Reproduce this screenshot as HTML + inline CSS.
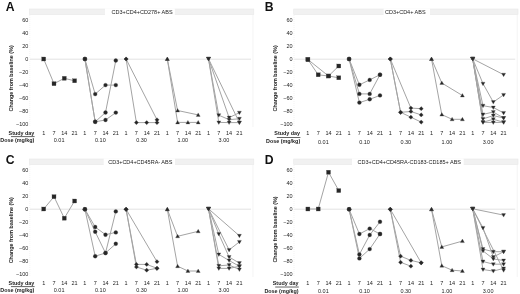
<!DOCTYPE html><html><head><meta charset="utf-8"><style>html,body{margin:0;padding:0;background:#fff;width:520px;height:294px;overflow:hidden}svg{display:block}text{font-family:"Liberation Sans",Arial,sans-serif}</style></head><body>
<svg width="520" height="294" viewBox="0 0 520 294">
<rect width="520" height="294" fill="#fff"/>
<g><text x="5.8" y="11.1" font-size="12.2" font-weight="bold" fill="#111">A</text><rect x="29.5" y="9" width="224.3" height="5.6" fill="#f1f1f1" stroke="#e8e8e8" stroke-width="0.6"/><rect x="105" y="8.5" width="69.8" height="6.6" fill="#fff"/><text x="142.10" y="13.5" font-size="5.5" text-anchor="middle" fill="#222">CD3+CD4+CD278+ ABS</text><line x1="29.8" y1="15" x2="29.8" y2="127" stroke="#ebebeb" stroke-width="0.6" stroke-dasharray="1 1"/><line x1="253" y1="15" x2="253" y2="127" stroke="#ececec" stroke-width="0.6"/><line x1="30" y1="59.2" x2="251" y2="59.2" stroke="#e0e0e0" stroke-width="0.9"/><text x="28.4" y="22.00" font-size="5.5" text-anchor="end" fill="#222">60</text><text x="28.4" y="34.95" font-size="5.5" text-anchor="end" fill="#222">40</text><text x="28.4" y="47.90" font-size="5.5" text-anchor="end" fill="#222">20</text><text x="28.4" y="60.85" font-size="5.5" text-anchor="end" fill="#222">0</text><text x="28.4" y="73.80" font-size="5.5" text-anchor="end" fill="#222">&#8722;20</text><text x="28.4" y="86.75" font-size="5.5" text-anchor="end" fill="#222">&#8722;40</text><text x="28.4" y="99.70" font-size="5.5" text-anchor="end" fill="#222">&#8722;60</text><text x="28.4" y="112.65" font-size="5.5" text-anchor="end" fill="#222">&#8722;80</text><text x="28.4" y="125.60" font-size="5.5" text-anchor="end" fill="#222">&#8722;100</text><text transform="translate(12.60,78.40) rotate(-90)" x="0" y="0" font-size="5.4" font-weight="bold" text-anchor="middle" fill="#222">Change from baseline (%)</text><text x="34.3" y="135.2" font-size="5.4" font-weight="bold" text-anchor="end" fill="#222">Study day</text><line x1="11" y1="136.6" x2="34.6" y2="136.6" stroke="#222" stroke-width="0.7"/><text x="34.4" y="141.9" font-size="5.4" font-weight="bold" text-anchor="end" fill="#222">Dose (mg/kg)</text><text x="43.70" y="135.3" font-size="5.5" text-anchor="middle" fill="#222">1</text><text x="54.00" y="135.3" font-size="5.5" text-anchor="middle" fill="#222">7</text><text x="64.30" y="135.3" font-size="5.5" text-anchor="middle" fill="#222">14</text><text x="74.60" y="135.3" font-size="5.5" text-anchor="middle" fill="#222">21</text><text x="84.90" y="135.3" font-size="5.5" text-anchor="middle" fill="#222">1</text><text x="95.20" y="135.3" font-size="5.5" text-anchor="middle" fill="#222">7</text><text x="105.50" y="135.3" font-size="5.5" text-anchor="middle" fill="#222">14</text><text x="115.80" y="135.3" font-size="5.5" text-anchor="middle" fill="#222">21</text><text x="126.10" y="135.3" font-size="5.5" text-anchor="middle" fill="#222">1</text><text x="136.40" y="135.3" font-size="5.5" text-anchor="middle" fill="#222">7</text><text x="146.70" y="135.3" font-size="5.5" text-anchor="middle" fill="#222">14</text><text x="157.00" y="135.3" font-size="5.5" text-anchor="middle" fill="#222">21</text><text x="167.30" y="135.3" font-size="5.5" text-anchor="middle" fill="#222">1</text><text x="177.60" y="135.3" font-size="5.5" text-anchor="middle" fill="#222">7</text><text x="187.90" y="135.3" font-size="5.5" text-anchor="middle" fill="#222">14</text><text x="198.20" y="135.3" font-size="5.5" text-anchor="middle" fill="#222">21</text><text x="208.50" y="135.3" font-size="5.5" text-anchor="middle" fill="#222">1</text><text x="218.80" y="135.3" font-size="5.5" text-anchor="middle" fill="#222">7</text><text x="229.10" y="135.3" font-size="5.5" text-anchor="middle" fill="#222">14</text><text x="239.40" y="135.3" font-size="5.5" text-anchor="middle" fill="#222">21</text><text x="59.15" y="142" font-size="5.5" text-anchor="middle" fill="#222">0.01</text><text x="100.35" y="142" font-size="5.5" text-anchor="middle" fill="#222">0.10</text><text x="141.55" y="142" font-size="5.5" text-anchor="middle" fill="#222">0.30</text><text x="182.75" y="142" font-size="5.5" text-anchor="middle" fill="#222">1.00</text><text x="223.95" y="142" font-size="5.5" text-anchor="middle" fill="#222">3.00</text><g fill="none" stroke="#a4a4a4" stroke-width="1.0"><polyline points="43.70,59.00 54.00,83.70 64.30,78.30 74.60,80.80"/><polyline points="84.90,59.00 95.20,94.10 105.50,85.10 115.80,85.10"/><polyline points="84.90,59.00 95.20,121.80 105.50,120.00 115.80,112.60"/><polyline points="84.90,59.00 95.20,121.80 105.50,112.50 115.80,60.50"/><polyline points="126.10,59.00 136.40,122.60 146.70,122.60 157.00,122.60"/><polyline points="126.10,59.00 157.00,119.80"/><polyline points="167.30,59.00 177.60,110.50 198.20,114.90"/><polyline points="167.30,59.00 177.60,122.40 187.90,122.40 198.20,122.40"/><polyline points="208.50,58.80 218.80,115.20 229.10,119.70 239.40,118.75"/><polyline points="208.50,58.80 218.80,122.40 229.10,122.60 239.40,122.60"/><polyline points="208.50,58.80 229.10,117.60 239.40,112.70"/><polyline points="208.50,58.80 239.40,122.60"/></g><g fill="#262626" stroke="#555" stroke-width="0.3"><rect x="41.70" y="57.00" width="4.0" height="4.0"/><rect x="52.00" y="81.70" width="4.0" height="4.0"/><rect x="62.30" y="76.30" width="4.0" height="4.0"/><rect x="72.60" y="78.80" width="4.0" height="4.0"/><circle cx="84.90" cy="59.00" r="1.95"/><circle cx="95.20" cy="94.10" r="1.95"/><circle cx="105.50" cy="85.10" r="1.95"/><circle cx="115.80" cy="85.10" r="1.95"/><circle cx="84.90" cy="59.00" r="1.95"/><circle cx="95.20" cy="121.80" r="1.95"/><circle cx="105.50" cy="120.00" r="1.95"/><circle cx="115.80" cy="112.60" r="1.95"/><circle cx="84.90" cy="59.00" r="1.95"/><circle cx="95.20" cy="121.80" r="1.95"/><circle cx="105.50" cy="112.50" r="1.95"/><circle cx="115.80" cy="60.50" r="1.95"/><path d="M126.10 56.90L128.20 59.00L126.10 61.10L124.00 59.00Z"/><path d="M136.40 120.50L138.50 122.60L136.40 124.70L134.30 122.60Z"/><path d="M146.70 120.50L148.80 122.60L146.70 124.70L144.60 122.60Z"/><path d="M157.00 120.50L159.10 122.60L157.00 124.70L154.90 122.60Z"/><path d="M126.10 56.90L128.20 59.00L126.10 61.10L124.00 59.00Z"/><path d="M157.00 117.70L159.10 119.80L157.00 121.90L154.90 119.80Z"/><path d="M167.30 57.00L169.30 60.50L165.30 60.50Z"/><path d="M177.60 108.50L179.60 112.00L175.60 112.00Z"/><path d="M198.20 112.90L200.20 116.40L196.20 116.40Z"/><path d="M167.30 57.00L169.30 60.50L165.30 60.50Z"/><path d="M177.60 120.40L179.60 123.90L175.60 123.90Z"/><path d="M187.90 120.40L189.90 123.90L185.90 123.90Z"/><path d="M198.20 120.40L200.20 123.90L196.20 123.90Z"/><path d="M208.50 60.80L210.50 57.30L206.50 57.30Z"/><path d="M218.80 117.20L220.80 113.70L216.80 113.70Z"/><path d="M229.10 121.70L231.10 118.20L227.10 118.20Z"/><path d="M239.40 120.75L241.40 117.25L237.40 117.25Z"/><path d="M208.50 60.80L210.50 57.30L206.50 57.30Z"/><path d="M218.80 124.40L220.80 120.90L216.80 120.90Z"/><path d="M229.10 124.60L231.10 121.10L227.10 121.10Z"/><path d="M239.40 124.60L241.40 121.10L237.40 121.10Z"/><path d="M208.50 60.80L210.50 57.30L206.50 57.30Z"/><path d="M229.10 119.60L231.10 116.10L227.10 116.10Z"/><path d="M239.40 114.70L241.40 111.20L237.40 111.20Z"/><path d="M208.50 60.80L210.50 57.30L206.50 57.30Z"/><path d="M239.40 124.60L241.40 121.10L237.40 121.10Z"/></g></g>
<g><text x="264.8" y="11.1" font-size="12.2" font-weight="bold" fill="#111">B</text><rect x="293.7" y="9" width="224.3" height="5.6" fill="#f1f1f1" stroke="#e8e8e8" stroke-width="0.6"/><rect x="383.6" y="8.5" width="46.4" height="6.6" fill="#fff"/><text x="405.30" y="13.5" font-size="5.5" text-anchor="middle" fill="#222">CD3+CD4+ ABS</text><line x1="294.0" y1="15" x2="294.0" y2="127" stroke="#ebebeb" stroke-width="0.6" stroke-dasharray="1 1"/><line x1="517.2" y1="15" x2="517.2" y2="127" stroke="#ececec" stroke-width="0.6"/><line x1="294.2" y1="59.2" x2="515.2" y2="59.2" stroke="#e0e0e0" stroke-width="0.9"/><text x="292.59999999999997" y="22.00" font-size="5.5" text-anchor="end" fill="#222">60</text><text x="292.59999999999997" y="34.95" font-size="5.5" text-anchor="end" fill="#222">40</text><text x="292.59999999999997" y="47.90" font-size="5.5" text-anchor="end" fill="#222">20</text><text x="292.59999999999997" y="60.85" font-size="5.5" text-anchor="end" fill="#222">0</text><text x="292.59999999999997" y="73.80" font-size="5.5" text-anchor="end" fill="#222">&#8722;20</text><text x="292.59999999999997" y="86.75" font-size="5.5" text-anchor="end" fill="#222">&#8722;40</text><text x="292.59999999999997" y="99.70" font-size="5.5" text-anchor="end" fill="#222">&#8722;60</text><text x="292.59999999999997" y="112.65" font-size="5.5" text-anchor="end" fill="#222">&#8722;80</text><text x="292.59999999999997" y="125.60" font-size="5.5" text-anchor="end" fill="#222">&#8722;100</text><text transform="translate(276.80,78.40) rotate(-90)" x="0" y="0" font-size="5.4" font-weight="bold" text-anchor="middle" fill="#222">Change from baseline (%)</text><text x="300.1" y="135.2" font-size="5.4" font-weight="bold" text-anchor="end" fill="#222">Study day</text><line x1="276.8" y1="137.5" x2="300.40000000000003" y2="137.5" stroke="#222" stroke-width="0.7"/><text x="300.2" y="143.4" font-size="5.4" font-weight="bold" text-anchor="end" fill="#222">Dose (mg/kg)</text><text x="307.90" y="135.3" font-size="5.5" text-anchor="middle" fill="#222">1</text><text x="318.20" y="135.3" font-size="5.5" text-anchor="middle" fill="#222">7</text><text x="328.50" y="135.3" font-size="5.5" text-anchor="middle" fill="#222">14</text><text x="338.80" y="135.3" font-size="5.5" text-anchor="middle" fill="#222">21</text><text x="349.10" y="135.3" font-size="5.5" text-anchor="middle" fill="#222">1</text><text x="359.40" y="135.3" font-size="5.5" text-anchor="middle" fill="#222">7</text><text x="369.70" y="135.3" font-size="5.5" text-anchor="middle" fill="#222">14</text><text x="380.00" y="135.3" font-size="5.5" text-anchor="middle" fill="#222">21</text><text x="390.30" y="135.3" font-size="5.5" text-anchor="middle" fill="#222">1</text><text x="400.60" y="135.3" font-size="5.5" text-anchor="middle" fill="#222">7</text><text x="410.90" y="135.3" font-size="5.5" text-anchor="middle" fill="#222">14</text><text x="421.20" y="135.3" font-size="5.5" text-anchor="middle" fill="#222">21</text><text x="431.50" y="135.3" font-size="5.5" text-anchor="middle" fill="#222">1</text><text x="441.80" y="135.3" font-size="5.5" text-anchor="middle" fill="#222">7</text><text x="452.10" y="135.3" font-size="5.5" text-anchor="middle" fill="#222">14</text><text x="462.40" y="135.3" font-size="5.5" text-anchor="middle" fill="#222">21</text><text x="472.70" y="135.3" font-size="5.5" text-anchor="middle" fill="#222">1</text><text x="483.00" y="135.3" font-size="5.5" text-anchor="middle" fill="#222">7</text><text x="493.30" y="135.3" font-size="5.5" text-anchor="middle" fill="#222">14</text><text x="503.60" y="135.3" font-size="5.5" text-anchor="middle" fill="#222">21</text><text x="323.35" y="143.5" font-size="5.5" text-anchor="middle" fill="#222">0.01</text><text x="364.55" y="143.5" font-size="5.5" text-anchor="middle" fill="#222">0.10</text><text x="405.75" y="143.5" font-size="5.5" text-anchor="middle" fill="#222">0.30</text><text x="446.95" y="143.5" font-size="5.5" text-anchor="middle" fill="#222">1.00</text><text x="488.15" y="143.5" font-size="5.5" text-anchor="middle" fill="#222">3.00</text><g fill="none" stroke="#a4a4a4" stroke-width="1.0"><polyline points="307.90,59.50 318.20,74.80 328.50,76.00 338.80,77.80"/><polyline points="307.90,59.50 328.50,76.00 338.80,66.00"/><polyline points="349.10,59.00 359.40,84.80 369.70,79.90 380.00,74.70"/><polyline points="349.10,59.00 359.40,93.90 369.70,93.90 380.00,74.70"/><polyline points="349.10,59.00 359.40,102.60 369.70,99.30 380.00,95.40"/><polyline points="390.30,59.00 400.60,112.30 410.90,111.50 421.20,114.90"/><polyline points="390.30,59.00 400.60,112.30 410.90,117.20 421.20,122.10"/><polyline points="390.30,59.00 410.90,108.10 421.20,108.70"/><polyline points="431.50,59.00 441.80,83.00 462.40,95.50"/><polyline points="431.50,59.00 441.80,114.60 452.10,119.30 462.40,119.30"/><polyline points="472.70,58.80 503.60,74.70"/><polyline points="472.70,58.80 483.00,83.70 493.30,102.10 503.60,94.90"/><polyline points="472.70,58.80 483.00,105.70 493.30,107.50 503.60,112.90"/><polyline points="472.70,58.80 483.00,114.40 493.30,112.00 503.60,118.00"/><polyline points="472.70,58.80 483.00,118.90 493.30,115.60 503.60,118.00"/><polyline points="472.70,58.80 483.00,122.30 493.30,119.20 503.60,122.30"/><polyline points="472.70,58.80 483.00,122.30 493.30,122.50 503.60,122.30"/></g><g fill="#262626" stroke="#555" stroke-width="0.3"><rect x="305.90" y="57.50" width="4.0" height="4.0"/><rect x="316.20" y="72.80" width="4.0" height="4.0"/><rect x="326.50" y="74.00" width="4.0" height="4.0"/><rect x="336.80" y="75.80" width="4.0" height="4.0"/><rect x="305.90" y="57.50" width="4.0" height="4.0"/><rect x="326.50" y="74.00" width="4.0" height="4.0"/><rect x="336.80" y="64.00" width="4.0" height="4.0"/><circle cx="349.10" cy="59.00" r="1.95"/><circle cx="359.40" cy="84.80" r="1.95"/><circle cx="369.70" cy="79.90" r="1.95"/><circle cx="380.00" cy="74.70" r="1.95"/><circle cx="349.10" cy="59.00" r="1.95"/><circle cx="359.40" cy="93.90" r="1.95"/><circle cx="369.70" cy="93.90" r="1.95"/><circle cx="380.00" cy="74.70" r="1.95"/><circle cx="349.10" cy="59.00" r="1.95"/><circle cx="359.40" cy="102.60" r="1.95"/><circle cx="369.70" cy="99.30" r="1.95"/><circle cx="380.00" cy="95.40" r="1.95"/><path d="M390.30 56.90L392.40 59.00L390.30 61.10L388.20 59.00Z"/><path d="M400.60 110.20L402.70 112.30L400.60 114.40L398.50 112.30Z"/><path d="M410.90 109.40L413.00 111.50L410.90 113.60L408.80 111.50Z"/><path d="M421.20 112.80L423.30 114.90L421.20 117.00L419.10 114.90Z"/><path d="M390.30 56.90L392.40 59.00L390.30 61.10L388.20 59.00Z"/><path d="M400.60 110.20L402.70 112.30L400.60 114.40L398.50 112.30Z"/><path d="M410.90 115.10L413.00 117.20L410.90 119.30L408.80 117.20Z"/><path d="M421.20 120.00L423.30 122.10L421.20 124.20L419.10 122.10Z"/><path d="M390.30 56.90L392.40 59.00L390.30 61.10L388.20 59.00Z"/><path d="M410.90 106.00L413.00 108.10L410.90 110.20L408.80 108.10Z"/><path d="M421.20 106.60L423.30 108.70L421.20 110.80L419.10 108.70Z"/><path d="M431.50 57.00L433.50 60.50L429.50 60.50Z"/><path d="M441.80 81.00L443.80 84.50L439.80 84.50Z"/><path d="M462.40 93.50L464.40 97.00L460.40 97.00Z"/><path d="M431.50 57.00L433.50 60.50L429.50 60.50Z"/><path d="M441.80 112.60L443.80 116.10L439.80 116.10Z"/><path d="M452.10 117.30L454.10 120.80L450.10 120.80Z"/><path d="M462.40 117.30L464.40 120.80L460.40 120.80Z"/><path d="M472.70 60.80L474.70 57.30L470.70 57.30Z"/><path d="M503.60 76.70L505.60 73.20L501.60 73.20Z"/><path d="M472.70 60.80L474.70 57.30L470.70 57.30Z"/><path d="M483.00 85.70L485.00 82.20L481.00 82.20Z"/><path d="M493.30 104.10L495.30 100.60L491.30 100.60Z"/><path d="M503.60 96.90L505.60 93.40L501.60 93.40Z"/><path d="M472.70 60.80L474.70 57.30L470.70 57.30Z"/><path d="M483.00 107.70L485.00 104.20L481.00 104.20Z"/><path d="M493.30 109.50L495.30 106.00L491.30 106.00Z"/><path d="M503.60 114.90L505.60 111.40L501.60 111.40Z"/><path d="M472.70 60.80L474.70 57.30L470.70 57.30Z"/><path d="M483.00 116.40L485.00 112.90L481.00 112.90Z"/><path d="M493.30 114.00L495.30 110.50L491.30 110.50Z"/><path d="M503.60 120.00L505.60 116.50L501.60 116.50Z"/><path d="M472.70 60.80L474.70 57.30L470.70 57.30Z"/><path d="M483.00 120.90L485.00 117.40L481.00 117.40Z"/><path d="M493.30 117.60L495.30 114.10L491.30 114.10Z"/><path d="M503.60 120.00L505.60 116.50L501.60 116.50Z"/><path d="M472.70 60.80L474.70 57.30L470.70 57.30Z"/><path d="M483.00 124.30L485.00 120.80L481.00 120.80Z"/><path d="M493.30 121.20L495.30 117.70L491.30 117.70Z"/><path d="M503.60 124.30L505.60 120.80L501.60 120.80Z"/><path d="M472.70 60.80L474.70 57.30L470.70 57.30Z"/><path d="M483.00 124.30L485.00 120.80L481.00 120.80Z"/><path d="M493.30 124.50L495.30 121.00L491.30 121.00Z"/><path d="M503.60 124.30L505.60 120.80L501.60 120.80Z"/></g></g>
<g><text x="5.8" y="164.1" font-size="12.2" font-weight="bold" fill="#111">C</text><rect x="29.5" y="159" width="224.3" height="5.6" fill="#f1f1f1" stroke="#e8e8e8" stroke-width="0.6"/><rect x="103.7" y="158.5" width="71.3" height="6.6" fill="#fff"/><text x="140.30" y="163.5" font-size="5.5" text-anchor="middle" fill="#222">CD3+CD4+CD45RA- ABS</text><line x1="29.8" y1="165" x2="29.8" y2="277" stroke="#ebebeb" stroke-width="0.6" stroke-dasharray="1 1"/><line x1="253" y1="165" x2="253" y2="277" stroke="#ececec" stroke-width="0.6"/><line x1="30" y1="209.2" x2="251" y2="209.2" stroke="#e0e0e0" stroke-width="0.9"/><text x="28.4" y="172.00" font-size="5.5" text-anchor="end" fill="#222">60</text><text x="28.4" y="184.95" font-size="5.5" text-anchor="end" fill="#222">40</text><text x="28.4" y="197.90" font-size="5.5" text-anchor="end" fill="#222">20</text><text x="28.4" y="210.85" font-size="5.5" text-anchor="end" fill="#222">0</text><text x="28.4" y="223.80" font-size="5.5" text-anchor="end" fill="#222">&#8722;20</text><text x="28.4" y="236.75" font-size="5.5" text-anchor="end" fill="#222">&#8722;40</text><text x="28.4" y="249.70" font-size="5.5" text-anchor="end" fill="#222">&#8722;60</text><text x="28.4" y="262.65" font-size="5.5" text-anchor="end" fill="#222">&#8722;80</text><text x="28.4" y="275.60" font-size="5.5" text-anchor="end" fill="#222">&#8722;100</text><text transform="translate(12.60,230.20) rotate(-90)" x="0" y="0" font-size="5.4" font-weight="bold" text-anchor="middle" fill="#222">Change from baseline (%)</text><text x="34.3" y="285.2" font-size="5.4" font-weight="bold" text-anchor="end" fill="#222">Study day</text><line x1="11" y1="286.6" x2="34.6" y2="286.6" stroke="#222" stroke-width="0.7"/><text x="34.4" y="291.9" font-size="5.4" font-weight="bold" text-anchor="end" fill="#222">Dose (mg/kg)</text><text x="43.70" y="285.3" font-size="5.5" text-anchor="middle" fill="#222">1</text><text x="54.00" y="285.3" font-size="5.5" text-anchor="middle" fill="#222">7</text><text x="64.30" y="285.3" font-size="5.5" text-anchor="middle" fill="#222">14</text><text x="74.60" y="285.3" font-size="5.5" text-anchor="middle" fill="#222">21</text><text x="84.90" y="285.3" font-size="5.5" text-anchor="middle" fill="#222">1</text><text x="95.20" y="285.3" font-size="5.5" text-anchor="middle" fill="#222">7</text><text x="105.50" y="285.3" font-size="5.5" text-anchor="middle" fill="#222">14</text><text x="115.80" y="285.3" font-size="5.5" text-anchor="middle" fill="#222">21</text><text x="126.10" y="285.3" font-size="5.5" text-anchor="middle" fill="#222">1</text><text x="136.40" y="285.3" font-size="5.5" text-anchor="middle" fill="#222">7</text><text x="146.70" y="285.3" font-size="5.5" text-anchor="middle" fill="#222">14</text><text x="157.00" y="285.3" font-size="5.5" text-anchor="middle" fill="#222">21</text><text x="167.30" y="285.3" font-size="5.5" text-anchor="middle" fill="#222">1</text><text x="177.60" y="285.3" font-size="5.5" text-anchor="middle" fill="#222">7</text><text x="187.90" y="285.3" font-size="5.5" text-anchor="middle" fill="#222">14</text><text x="198.20" y="285.3" font-size="5.5" text-anchor="middle" fill="#222">21</text><text x="208.50" y="285.3" font-size="5.5" text-anchor="middle" fill="#222">1</text><text x="218.80" y="285.3" font-size="5.5" text-anchor="middle" fill="#222">7</text><text x="229.10" y="285.3" font-size="5.5" text-anchor="middle" fill="#222">14</text><text x="239.40" y="285.3" font-size="5.5" text-anchor="middle" fill="#222">21</text><text x="59.15" y="292" font-size="5.5" text-anchor="middle" fill="#222">0.01</text><text x="100.35" y="292" font-size="5.5" text-anchor="middle" fill="#222">0.10</text><text x="141.55" y="292" font-size="5.5" text-anchor="middle" fill="#222">0.30</text><text x="182.75" y="292" font-size="5.5" text-anchor="middle" fill="#222">1.00</text><text x="223.95" y="292" font-size="5.5" text-anchor="middle" fill="#222">3.00</text><g fill="none" stroke="#a4a4a4" stroke-width="1.0"><polyline points="43.70,209.00 54.00,196.70 64.30,218.20 74.60,201.00"/><polyline points="84.90,209.30 95.20,227.00 105.50,234.70 115.80,232.40"/><polyline points="84.90,209.30 95.20,231.80 105.50,253.00 115.80,211.40"/><polyline points="84.90,209.30 95.20,256.20 105.50,253.00 115.80,243.80"/><polyline points="126.10,209.30 136.40,264.40 146.70,264.40 157.00,268.30"/><polyline points="126.10,209.30 136.40,267.00 146.70,270.20 157.00,268.30"/><polyline points="126.10,209.30 157.00,261.70"/><polyline points="167.30,209.30 177.60,236.30 198.20,231.30"/><polyline points="167.30,209.30 177.60,266.20 187.90,271.00 198.20,271.00"/><polyline points="208.50,208.80 239.40,235.80"/><polyline points="208.50,208.80 218.80,234.00 229.10,257.00 239.40,263.10"/><polyline points="208.50,208.80 229.10,249.90 239.40,241.90"/><polyline points="208.50,208.80 218.80,254.40 229.10,260.50 239.40,266.30"/><polyline points="208.50,208.80 218.80,265.80 229.10,265.00 239.40,269.50"/><polyline points="208.50,208.80 218.80,268.40 229.10,268.40 239.40,266.30"/></g><g fill="#262626" stroke="#555" stroke-width="0.3"><rect x="41.70" y="207.00" width="4.0" height="4.0"/><rect x="52.00" y="194.70" width="4.0" height="4.0"/><rect x="62.30" y="216.20" width="4.0" height="4.0"/><rect x="72.60" y="199.00" width="4.0" height="4.0"/><circle cx="84.90" cy="209.30" r="1.95"/><circle cx="95.20" cy="227.00" r="1.95"/><circle cx="105.50" cy="234.70" r="1.95"/><circle cx="115.80" cy="232.40" r="1.95"/><circle cx="84.90" cy="209.30" r="1.95"/><circle cx="95.20" cy="231.80" r="1.95"/><circle cx="105.50" cy="253.00" r="1.95"/><circle cx="115.80" cy="211.40" r="1.95"/><circle cx="84.90" cy="209.30" r="1.95"/><circle cx="95.20" cy="256.20" r="1.95"/><circle cx="105.50" cy="253.00" r="1.95"/><circle cx="115.80" cy="243.80" r="1.95"/><path d="M126.10 207.20L128.20 209.30L126.10 211.40L124.00 209.30Z"/><path d="M136.40 262.30L138.50 264.40L136.40 266.50L134.30 264.40Z"/><path d="M146.70 262.30L148.80 264.40L146.70 266.50L144.60 264.40Z"/><path d="M157.00 266.20L159.10 268.30L157.00 270.40L154.90 268.30Z"/><path d="M126.10 207.20L128.20 209.30L126.10 211.40L124.00 209.30Z"/><path d="M136.40 264.90L138.50 267.00L136.40 269.10L134.30 267.00Z"/><path d="M146.70 268.10L148.80 270.20L146.70 272.30L144.60 270.20Z"/><path d="M157.00 266.20L159.10 268.30L157.00 270.40L154.90 268.30Z"/><path d="M126.10 207.20L128.20 209.30L126.10 211.40L124.00 209.30Z"/><path d="M157.00 259.60L159.10 261.70L157.00 263.80L154.90 261.70Z"/><path d="M167.30 207.30L169.30 210.80L165.30 210.80Z"/><path d="M177.60 234.30L179.60 237.80L175.60 237.80Z"/><path d="M198.20 229.30L200.20 232.80L196.20 232.80Z"/><path d="M167.30 207.30L169.30 210.80L165.30 210.80Z"/><path d="M177.60 264.20L179.60 267.70L175.60 267.70Z"/><path d="M187.90 269.00L189.90 272.50L185.90 272.50Z"/><path d="M198.20 269.00L200.20 272.50L196.20 272.50Z"/><path d="M208.50 210.80L210.50 207.30L206.50 207.30Z"/><path d="M239.40 237.80L241.40 234.30L237.40 234.30Z"/><path d="M208.50 210.80L210.50 207.30L206.50 207.30Z"/><path d="M218.80 236.00L220.80 232.50L216.80 232.50Z"/><path d="M229.10 259.00L231.10 255.50L227.10 255.50Z"/><path d="M239.40 265.10L241.40 261.60L237.40 261.60Z"/><path d="M208.50 210.80L210.50 207.30L206.50 207.30Z"/><path d="M229.10 251.90L231.10 248.40L227.10 248.40Z"/><path d="M239.40 243.90L241.40 240.40L237.40 240.40Z"/><path d="M208.50 210.80L210.50 207.30L206.50 207.30Z"/><path d="M218.80 256.40L220.80 252.90L216.80 252.90Z"/><path d="M229.10 262.50L231.10 259.00L227.10 259.00Z"/><path d="M239.40 268.30L241.40 264.80L237.40 264.80Z"/><path d="M208.50 210.80L210.50 207.30L206.50 207.30Z"/><path d="M218.80 267.80L220.80 264.30L216.80 264.30Z"/><path d="M229.10 267.00L231.10 263.50L227.10 263.50Z"/><path d="M239.40 271.50L241.40 268.00L237.40 268.00Z"/><path d="M208.50 210.80L210.50 207.30L206.50 207.30Z"/><path d="M218.80 270.40L220.80 266.90L216.80 266.90Z"/><path d="M229.10 270.40L231.10 266.90L227.10 266.90Z"/><path d="M239.40 268.30L241.40 264.80L237.40 264.80Z"/></g></g>
<g><text x="264.8" y="164.1" font-size="12.2" font-weight="bold" fill="#111">D</text><rect x="293.7" y="159" width="224.3" height="5.6" fill="#f1f1f1" stroke="#e8e8e8" stroke-width="0.6"/><rect x="352" y="158.5" width="111.7" height="6.6" fill="#fff"/><text x="409.25" y="163.5" font-size="5.5" text-anchor="middle" fill="#222">CD3+CD4+CD45RA-CD183-CD185+ ABS</text><line x1="294.0" y1="165" x2="294.0" y2="277" stroke="#ebebeb" stroke-width="0.6" stroke-dasharray="1 1"/><line x1="517.2" y1="165" x2="517.2" y2="277" stroke="#ececec" stroke-width="0.6"/><line x1="294.2" y1="209.2" x2="515.2" y2="209.2" stroke="#e0e0e0" stroke-width="0.9"/><text x="292.59999999999997" y="172.00" font-size="5.5" text-anchor="end" fill="#222">60</text><text x="292.59999999999997" y="184.95" font-size="5.5" text-anchor="end" fill="#222">40</text><text x="292.59999999999997" y="197.90" font-size="5.5" text-anchor="end" fill="#222">20</text><text x="292.59999999999997" y="210.85" font-size="5.5" text-anchor="end" fill="#222">0</text><text x="292.59999999999997" y="223.80" font-size="5.5" text-anchor="end" fill="#222">&#8722;20</text><text x="292.59999999999997" y="236.75" font-size="5.5" text-anchor="end" fill="#222">&#8722;40</text><text x="292.59999999999997" y="249.70" font-size="5.5" text-anchor="end" fill="#222">&#8722;60</text><text x="292.59999999999997" y="262.65" font-size="5.5" text-anchor="end" fill="#222">&#8722;80</text><text x="292.59999999999997" y="275.60" font-size="5.5" text-anchor="end" fill="#222">&#8722;100</text><text transform="translate(276.80,229.50) rotate(-90)" x="0" y="0" font-size="5.4" font-weight="bold" text-anchor="middle" fill="#222">Change from baseline (%)</text><text x="298.5" y="285.2" font-size="5.4" font-weight="bold" text-anchor="end" fill="#222">Study day</text><line x1="275.2" y1="287.02000000000004" x2="298.8" y2="287.02000000000004" stroke="#222" stroke-width="0.7"/><text x="298.59999999999997" y="292.59999999999997" font-size="5.4" font-weight="bold" text-anchor="end" fill="#222">Dose (mg/kg)</text><text x="307.90" y="285.3" font-size="5.5" text-anchor="middle" fill="#222">1</text><text x="318.20" y="285.3" font-size="5.5" text-anchor="middle" fill="#222">7</text><text x="328.50" y="285.3" font-size="5.5" text-anchor="middle" fill="#222">14</text><text x="338.80" y="285.3" font-size="5.5" text-anchor="middle" fill="#222">21</text><text x="349.10" y="285.3" font-size="5.5" text-anchor="middle" fill="#222">1</text><text x="359.40" y="285.3" font-size="5.5" text-anchor="middle" fill="#222">7</text><text x="369.70" y="285.3" font-size="5.5" text-anchor="middle" fill="#222">14</text><text x="380.00" y="285.3" font-size="5.5" text-anchor="middle" fill="#222">21</text><text x="390.30" y="285.3" font-size="5.5" text-anchor="middle" fill="#222">1</text><text x="400.60" y="285.3" font-size="5.5" text-anchor="middle" fill="#222">7</text><text x="410.90" y="285.3" font-size="5.5" text-anchor="middle" fill="#222">14</text><text x="421.20" y="285.3" font-size="5.5" text-anchor="middle" fill="#222">21</text><text x="431.50" y="285.3" font-size="5.5" text-anchor="middle" fill="#222">1</text><text x="441.80" y="285.3" font-size="5.5" text-anchor="middle" fill="#222">7</text><text x="452.10" y="285.3" font-size="5.5" text-anchor="middle" fill="#222">14</text><text x="462.40" y="285.3" font-size="5.5" text-anchor="middle" fill="#222">21</text><text x="472.70" y="285.3" font-size="5.5" text-anchor="middle" fill="#222">1</text><text x="483.00" y="285.3" font-size="5.5" text-anchor="middle" fill="#222">7</text><text x="493.30" y="285.3" font-size="5.5" text-anchor="middle" fill="#222">14</text><text x="503.60" y="285.3" font-size="5.5" text-anchor="middle" fill="#222">21</text><text x="323.35" y="292.7" font-size="5.5" text-anchor="middle" fill="#222">0.01</text><text x="364.55" y="292.7" font-size="5.5" text-anchor="middle" fill="#222">0.10</text><text x="405.75" y="292.7" font-size="5.5" text-anchor="middle" fill="#222">0.30</text><text x="446.95" y="292.7" font-size="5.5" text-anchor="middle" fill="#222">1.00</text><text x="488.15" y="292.7" font-size="5.5" text-anchor="middle" fill="#222">3.00</text><g fill="none" stroke="#a4a4a4" stroke-width="1.0"><polyline points="307.90,209.00 318.20,209.00 328.50,172.20 338.80,190.60"/><polyline points="349.10,209.30 359.40,234.00 369.70,228.60 380.00,234.00"/><polyline points="349.10,209.30 359.40,254.40 369.70,235.00 380.00,221.80"/><polyline points="349.10,209.30 359.40,258.40 369.70,249.10 380.00,234.00"/><polyline points="390.30,209.30 400.60,256.20 410.90,260.40 421.20,262.80"/><polyline points="390.30,209.30 421.20,262.80"/><polyline points="390.30,209.30 400.60,262.30 410.90,266.20"/><polyline points="431.50,209.30 441.80,246.90 462.40,241.10"/><polyline points="431.50,209.30 441.80,265.70 452.10,270.20 462.40,271.00"/><polyline points="472.70,208.80 503.60,215.10"/><polyline points="472.70,208.80 483.00,227.90 493.30,257.00 503.60,251.70"/><polyline points="472.70,208.80 483.00,249.10 493.30,251.70 503.60,251.70"/><polyline points="472.70,208.80 483.00,250.90 493.30,258.90 503.60,260.50"/><polyline points="472.70,208.80 483.00,261.50 493.30,264.20 503.60,264.20"/><polyline points="472.70,208.80 483.00,269.50 493.30,271.10 503.60,268.40"/><polyline points="472.70,208.80 503.60,270.30"/></g><g fill="#262626" stroke="#555" stroke-width="0.3"><rect x="305.90" y="207.00" width="4.0" height="4.0"/><rect x="316.20" y="207.00" width="4.0" height="4.0"/><rect x="326.50" y="170.20" width="4.0" height="4.0"/><rect x="336.80" y="188.60" width="4.0" height="4.0"/><circle cx="349.10" cy="209.30" r="1.95"/><circle cx="359.40" cy="234.00" r="1.95"/><circle cx="369.70" cy="228.60" r="1.95"/><circle cx="380.00" cy="234.00" r="1.95"/><circle cx="349.10" cy="209.30" r="1.95"/><circle cx="359.40" cy="254.40" r="1.95"/><circle cx="369.70" cy="235.00" r="1.95"/><circle cx="380.00" cy="221.80" r="1.95"/><circle cx="349.10" cy="209.30" r="1.95"/><circle cx="359.40" cy="258.40" r="1.95"/><circle cx="369.70" cy="249.10" r="1.95"/><circle cx="380.00" cy="234.00" r="1.95"/><path d="M390.30 207.20L392.40 209.30L390.30 211.40L388.20 209.30Z"/><path d="M400.60 254.10L402.70 256.20L400.60 258.30L398.50 256.20Z"/><path d="M410.90 258.30L413.00 260.40L410.90 262.50L408.80 260.40Z"/><path d="M421.20 260.70L423.30 262.80L421.20 264.90L419.10 262.80Z"/><path d="M390.30 207.20L392.40 209.30L390.30 211.40L388.20 209.30Z"/><path d="M421.20 260.70L423.30 262.80L421.20 264.90L419.10 262.80Z"/><path d="M390.30 207.20L392.40 209.30L390.30 211.40L388.20 209.30Z"/><path d="M400.60 260.20L402.70 262.30L400.60 264.40L398.50 262.30Z"/><path d="M410.90 264.10L413.00 266.20L410.90 268.30L408.80 266.20Z"/><path d="M431.50 207.30L433.50 210.80L429.50 210.80Z"/><path d="M441.80 244.90L443.80 248.40L439.80 248.40Z"/><path d="M462.40 239.10L464.40 242.60L460.40 242.60Z"/><path d="M431.50 207.30L433.50 210.80L429.50 210.80Z"/><path d="M441.80 263.70L443.80 267.20L439.80 267.20Z"/><path d="M452.10 268.20L454.10 271.70L450.10 271.70Z"/><path d="M462.40 269.00L464.40 272.50L460.40 272.50Z"/><path d="M472.70 210.80L474.70 207.30L470.70 207.30Z"/><path d="M503.60 217.10L505.60 213.60L501.60 213.60Z"/><path d="M472.70 210.80L474.70 207.30L470.70 207.30Z"/><path d="M483.00 229.90L485.00 226.40L481.00 226.40Z"/><path d="M493.30 259.00L495.30 255.50L491.30 255.50Z"/><path d="M503.60 253.70L505.60 250.20L501.60 250.20Z"/><path d="M472.70 210.80L474.70 207.30L470.70 207.30Z"/><path d="M483.00 251.10L485.00 247.60L481.00 247.60Z"/><path d="M493.30 253.70L495.30 250.20L491.30 250.20Z"/><path d="M503.60 253.70L505.60 250.20L501.60 250.20Z"/><path d="M472.70 210.80L474.70 207.30L470.70 207.30Z"/><path d="M483.00 252.90L485.00 249.40L481.00 249.40Z"/><path d="M493.30 260.90L495.30 257.40L491.30 257.40Z"/><path d="M503.60 262.50L505.60 259.00L501.60 259.00Z"/><path d="M472.70 210.80L474.70 207.30L470.70 207.30Z"/><path d="M483.00 263.50L485.00 260.00L481.00 260.00Z"/><path d="M493.30 266.20L495.30 262.70L491.30 262.70Z"/><path d="M503.60 266.20L505.60 262.70L501.60 262.70Z"/><path d="M472.70 210.80L474.70 207.30L470.70 207.30Z"/><path d="M483.00 271.50L485.00 268.00L481.00 268.00Z"/><path d="M493.30 273.10L495.30 269.60L491.30 269.60Z"/><path d="M503.60 270.40L505.60 266.90L501.60 266.90Z"/><path d="M472.70 210.80L474.70 207.30L470.70 207.30Z"/><path d="M503.60 272.30L505.60 268.80L501.60 268.80Z"/></g></g>
</svg></body></html>
